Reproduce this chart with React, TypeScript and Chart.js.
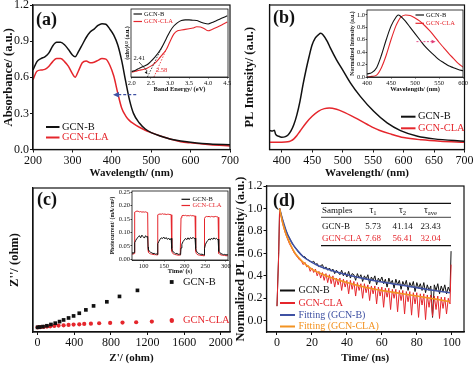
import React, { useEffect, useRef } from "react";
import { Chart, registerables } from "chart.js";

Chart.register(...registerables);

const PAGE_W = 474;
const PAGE_H = 365;
const SERIF = '"Liberation Serif", "Times New Roman", Times, serif';
const INK = "#111111";
const RED = "#e5262c";
const BLUE = "#3f51a3";
const ORANGE = "#f39322";
const PINK = "#e23c78";

Chart.defaults.font.family = SERIF;

// ---------- (a) UV-vis absorbance ----------
const uvWavelength = [200, 210, 220, 230, 240, 250, 260, 270, 280, 290, 300, 307, 315, 325, 335, 345, 355, 365, 375, 385, 395, 405, 415, 425, 435, 445, 455, 470, 485, 500, 525, 550, 575, 600, 650, 700];
const uvGcnB = [0.66, 0.73, 0.755, 0.77, 0.8, 0.86, 0.89, 0.89, 0.87, 0.83, 0.785, 0.77, 0.81, 0.87, 0.93, 0.975, 1.0, 1.03, 1.045, 1.04, 1.0, 0.95, 0.87, 0.74, 0.57, 0.41, 0.3, 0.22, 0.17, 0.14, 0.11, 0.085, 0.07, 0.06, 0.045, 0.04];
const uvGcnCla = [0.58, 0.65, 0.66, 0.665, 0.69, 0.73, 0.755, 0.755, 0.73, 0.69, 0.63, 0.6, 0.65, 0.72, 0.735, 0.72, 0.725, 0.74, 0.755, 0.75, 0.7, 0.61, 0.47, 0.345, 0.28, 0.24, 0.215, 0.185, 0.16, 0.14, 0.11, 0.085, 0.065, 0.055, 0.04, 0.03];
const uvXTicks = [200, 300, 400, 500, 600, 700];
const uvYTicks = [0, 0.3, 0.6, 0.9, 1.2];
const shiftArrow = { from: 462, to: 403, y: 0.455 };

// inset (a) Tauc plot
const taucEnergy = [2.0, 2.1, 2.2, 2.3, 2.4, 2.5, 2.6, 2.7, 2.8, 2.9, 3.0, 3.1, 3.2, 3.3, 3.4, 3.5, 3.6, 3.7, 3.8, 3.9, 4.0, 4.1, 4.2, 4.3, 4.4, 4.5];
const taucGcnB = [0.08, 0.1, 0.13, 0.155, 0.18, 0.23, 0.29, 0.36, 0.45, 0.56, 0.67, 0.75, 0.8, 0.83, 0.84, 0.84, 0.835, 0.83, 0.81, 0.79, 0.78, 0.8, 0.825, 0.85, 0.875, 0.9];
const taucGcnCla = [0.07, 0.085, 0.1, 0.11, 0.13, 0.16, 0.2, 0.26, 0.33, 0.4, 0.52, 0.63, 0.68, 0.69, 0.7, 0.71, 0.72, 0.74, 0.735, 0.71, 0.68, 0.7, 0.725, 0.75, 0.78, 0.81];
const taucXTicks = [2.0, 2.5, 3.0, 3.5, 4.0, 4.5];
const tangentBx = [2.41, 2.8];
const tangentBy = [0, 0.45];
const tangentClaX = [2.58, 2.9];
const tangentClaY = [0, 0.4];
const gapB = 2.41;
const gapCla = 2.58;

// ---------- (b) PL spectra ----------
const plWlB = [380, 385, 388, 390, 395, 400, 405, 410, 415, 420, 425, 430, 435, 440, 445, 450, 455, 460, 464, 468, 475, 480, 490, 500, 513, 529, 551, 573, 595, 623, 650, 700];
const plGcnB = [5.7, 5.6, 5.8, 4.6, 4.0, 3.7, 3.8, 4.3, 5.5, 7.5, 10.5, 14.5, 19.5, 24, 28, 31.5, 33.5, 34.5, 35, 34.5, 32.5, 30.5, 27, 24, 20, 16, 11.5, 8, 5.7, 4, 3.2, 2.5];
const plWlCla = [380, 400, 410, 415, 420, 425, 430, 440, 450, 460, 470, 478, 490, 500, 520, 540, 560, 580, 600, 630, 660, 700];
const plGcnCla = [2.2, 2.2, 2.3, 2.6, 3.2, 4.2, 5.5, 8, 10, 11.5, 12.3, 12.5, 12.1, 11.4, 9.6, 7.6, 5.8, 4.6, 3.6, 2.9, 2.5, 2.2];
const plXTicks = [400, 450, 500, 550, 600, 650, 700];

// inset (b) normalized PL
const nplWl = [400, 410, 420, 430, 440, 450, 460, 465, 470, 480, 490, 500, 510, 520, 530, 540, 550, 560, 570, 580, 590, 600];
const nplGcnB = [0.05, 0.07, 0.15, 0.35, 0.6, 0.82, 0.96, 1.0, 0.98, 0.9, 0.8, 0.7, 0.6, 0.5, 0.42, 0.35, 0.28, 0.23, 0.18, 0.15, 0.12, 0.1];
const nplGcnCla = [0.0, 0.01, 0.03, 0.15, 0.35, 0.6, 0.82, 0.9, 0.96, 1.0, 0.99, 0.95, 0.9, 0.83, 0.75, 0.66, 0.56, 0.47, 0.38, 0.3, 0.22, 0.16];
const nplXTicks = [400, 450, 500, 550, 600];
const nplYTicks = [0, 0.2, 0.4, 0.6, 0.8, 1.0];
const redShiftArrow = { from: 503, to: 543, y: 0.57 };

// ---------- (c) Nyquist ----------
const eisReB = [0, 22, 59, 102, 146, 193, 240, 284, 338, 393, 455, 527, 611, 756, 894, 1090];
const eisImB = [0, 3, 8, 17, 31, 45, 62, 80, 101, 123, 152, 188, 231, 275, 333, 398];
const eisReCla = [0, 29, 65, 102, 138, 182, 229, 284, 338, 393, 455, 509, 582, 672, 792, 927, 1076, 1247, 1465];
const eisImCla = [0, 2, 5, 8, 11, 15, 19, 22, 26, 30, 33, 37, 40, 44, 48, 51, 55, 62, 69];
const eisXTicks = [0, 400, 800, 1200, 1600, 2000];

// inset (c) photocurrent
const pcTime = [
  72, 74, 76, 77, 78, 79, 81, 84, 87, 90,
  93, 96, 99, 102, 105, 108, 110, 111, 112, 114,
  117, 120, 123, 126, 129, 132, 133, 134, 135, 137,
  140, 143, 146, 149, 152, 155, 158, 161, 164, 167,
  168, 169, 170, 172, 175, 178, 181, 184, 187, 189,
  190, 191, 193, 196, 199, 202, 205, 208, 211, 214,
  217, 220, 223, 225, 226, 227, 228, 230, 233, 236,
  239, 242, 245, 246, 247, 248, 250, 253, 256, 259,
  262, 265, 268, 271, 274, 277, 280, 281, 282, 283,
  285, 288, 291, 294, 297, 300, 303, 305,
];
const pcGcnCla = [
  0.02, 0.019, 0.02, 0.021, 0.17, 0.176, 0.178, 0.18, 0.179, 0.177,
  0.178, 0.176, 0.177, 0.176, 0.177, 0.175, 0.174, 0.035, 0.026, 0.022,
  0.02, 0.019, 0.018, 0.017, 0.017, 0.016, 0.016, 0.16, 0.166, 0.168,
  0.169, 0.168, 0.17, 0.168, 0.169, 0.167, 0.168, 0.168, 0.167, 0.166,
  0.165, 0.03, 0.024, 0.02, 0.018, 0.017, 0.016, 0.015, 0.015, 0.015,
  0.015, 0.155, 0.162, 0.164, 0.163, 0.164, 0.162, 0.163, 0.162, 0.164,
  0.162, 0.163, 0.161, 0.162, 0.16, 0.03, 0.022, 0.018, 0.016, 0.015,
  0.014, 0.014, 0.013, 0.013, 0.013, 0.152, 0.158, 0.16, 0.159, 0.16,
  0.158, 0.16, 0.159, 0.158, 0.16, 0.159, 0.158, 0.157, 0.03, 0.022,
  0.018, 0.016, 0.015, 0.014, 0.014, 0.013, 0.013, 0.013,
];
const pcGcnB = [
  0.025, 0.022, 0.024, 0.025, 0.05, 0.062, 0.07, 0.078, 0.082, 0.088,
  0.08, 0.09, 0.084, 0.079, 0.088, 0.082, 0.085, 0.045, 0.035, 0.03,
  0.026, 0.024, 0.021, 0.022, 0.019, 0.02, 0.018, 0.045, 0.058, 0.066,
  0.074, 0.08, 0.077, 0.083, 0.076, 0.081, 0.074, 0.079, 0.072, 0.078,
  0.075, 0.04, 0.032, 0.027, 0.024, 0.02, 0.022, 0.018, 0.019, 0.017,
  0.018, 0.042, 0.056, 0.066, 0.072, 0.078, 0.073, 0.08, 0.074, 0.081,
  0.076, 0.082, 0.077, 0.079, 0.076, 0.04, 0.032, 0.026, 0.022, 0.02,
  0.018, 0.019, 0.016, 0.017, 0.016, 0.04, 0.054, 0.064, 0.07, 0.076,
  0.072, 0.079, 0.074, 0.08, 0.075, 0.078, 0.073, 0.075, 0.038, 0.03,
  0.025, 0.021, 0.019, 0.017, 0.018, 0.016, 0.017, 0.016,
];
const pcXTicks = [100, 150, 200, 250, 300];
const pcYTicks = [0, 0.05, 0.1, 0.15, 0.2, 0.25];

// ---------- (d) PL decay ----------
const decayTime = [
  0, 1, 1.5, 2, 3, 4, 5, 6, 7, 8, 9,
  10, 11, 12, 13, 14, 15, 16, 17, 18, 19,
  20, 21, 22, 23, 24, 25, 26, 27, 28, 29,
  30, 31, 32, 33, 34, 35, 36, 37, 38, 39,
  40, 41, 42, 43, 44, 45, 46, 47, 48, 49,
  50, 51, 52, 53, 54, 55, 56, 57, 58, 59,
  60, 61, 62, 63, 64, 65, 66, 67, 68, 69,
  70, 71, 72, 73, 74, 75, 76, 77, 78, 79,
  80, 81, 82, 83, 84, 85, 86, 87, 88, 89,
  90, 91, 92, 93, 94, 95, 96, 97, 98, 99,
  99.6,
];
const decayGcnB = [
  0.13, 0.62, 1.0, 0.97, 0.91, 0.85, 0.81, 0.77, 0.74, 0.71, 0.68,
  0.66, 0.64, 0.62, 0.6, 0.59, 0.57, 0.57, 0.55, 0.54, 0.53,
  0.52, 0.53, 0.5, 0.51, 0.48, 0.49, 0.5, 0.46, 0.48, 0.45,
  0.47, 0.44, 0.46, 0.42, 0.45, 0.43, 0.41, 0.45, 0.4, 0.43,
  0.39, 0.44, 0.38, 0.42, 0.41, 0.36, 0.42, 0.38, 0.41, 0.35,
  0.4, 0.37, 0.41, 0.33, 0.39, 0.36, 0.4, 0.32, 0.38, 0.35,
  0.39, 0.33, 0.37, 0.3, 0.38, 0.33, 0.36, 0.29, 0.37, 0.32,
  0.36, 0.28, 0.35, 0.31, 0.36, 0.27, 0.34, 0.3, 0.35, 0.26,
  0.34, 0.29, 0.33, 0.27, 0.34, 0.25, 0.32, 0.27, 0.31, 0.03,
  0.32, 0.27, 0.33, 0.24, 0.31, 0.26, 0.32, 0.24, 0.3, 0.26,
  0.62,
];
const decayGcnCla = [
  0.13, 0.6, 1.0, 0.96, 0.88, 0.82, 0.77, 0.73, 0.69, 0.66, 0.63,
  0.6, 0.58, 0.56, 0.54, 0.53, 0.5, 0.52, 0.48, 0.49, 0.44,
  0.47, 0.43, 0.46, 0.4, 0.44, 0.38, 0.43, 0.36, 0.42, 0.34,
  0.41, 0.33, 0.4, 0.3, 0.38, 0.32, 0.38, 0.27, 0.37, 0.3,
  0.36, 0.24, 0.36, 0.28, 0.35, 0.22, 0.34, 0.27, 0.33, 0.2,
  0.33, 0.25, 0.32, 0.18, 0.31, 0.24, 0.31, 0.15, 0.3, 0.22,
  0.3, 0.12, 0.29, 0.21, 0.29, 0.1, 0.28, 0.2, 0.28, 0.08,
  0.27, 0.18, 0.27, 0.06, 0.26, 0.17, 0.26, 0.05, 0.25, 0.15,
  0.25, 0.03, 0.24, 0.14, 0.24, 0.01, 0.23, 0.12, 0.23, 0.04,
  0.22, 0.1, 0.22, 0.02, 0.21, 0.11, 0.21, 0.06, 0.2, 0.15,
  0.5,
];
const fitTime = [1.5, 2, 3, 4, 5, 6, 8, 10, 12, 15, 20, 25, 30, 40, 50, 60, 70, 80, 90, 99];
const fitGcnB = [1.0, 0.97, 0.91, 0.86, 0.81, 0.77, 0.71, 0.66, 0.62, 0.57, 0.52, 0.48, 0.455, 0.41, 0.375, 0.345, 0.32, 0.295, 0.27, 0.25];
const fitGcnCla = [1.0, 0.96, 0.89, 0.83, 0.78, 0.74, 0.67, 0.61, 0.57, 0.52, 0.46, 0.42, 0.39, 0.34, 0.3, 0.27, 0.245, 0.22, 0.195, 0.17];
const decayXTicks = [0, 20, 40, 60, 80, 100];
const decayYTicks = [0, 0.2, 0.4, 0.6, 0.8, 1.0, 1.2];
const tableHeader = ["Samples", "τ1", "τ2", "τave"];
const tableGcnB = ["GCN-B", "5.73", "41.14", "23.43"];
const tableGcnCla = ["GCN-CLA", "7.68", "56.41", "32.04"];

// ---------- helpers ----------
type Box = { l: number; t: number; r: number; b: number; yW: number; xH: number };
type AxisOpt = {
  min: number; max: number; ticks: number[];
  labels?: boolean; marks?: boolean; fontSize?: number; digits?: number;
  title?: string; titleSize?: number; tickLen?: number; tickPad?: number; lineW?: number;
};

function makeAxis(o: AxisOpt, horizontal: boolean, fixed: number) {
  return {
    type: "linear",
    position: horizontal ? "bottom" : "left",
    min: o.min,
    max: o.max,
    afterBuildTicks: (s: any) => {
      s.ticks = o.ticks.map((v) => ({ value: v }));
    },
    afterFit: (s: any) => {
      if (horizontal) s.height = fixed;
      else s.width = fixed;
      s.paddingLeft = 0;
      s.paddingRight = 0;
      s.paddingTop = 0;
      s.paddingBottom = 0;
    },
    grid: {
      display: o.marks !== false,
      drawOnChartArea: false,
      drawTicks: true,
      tickLength: o.tickLen ?? 3,
      tickWidth: o.lineW ?? 1,
      tickColor: INK,
      color: INK,
      lineWidth: o.lineW ?? 1,
    },
    border: { display: true, color: INK, width: o.lineW ?? 1.2 },
    ticks: {
      display: o.labels !== false,
      padding: o.tickPad ?? 1,
      color: INK,
      autoSkip: false,
      maxRotation: 0,
      minRotation: 0,
      font: { family: SERIF, size: o.fontSize ?? 12 },
      callback: (v: any) => (o.digits != null ? Number(v).toFixed(o.digits) : String(v)),
    },
    title: {
      display: !!o.title,
      text: o.title ?? "",
      color: INK,
      padding: 0,
      font: { family: SERIF, size: o.titleSize ?? 12, weight: "bold" },
    },
  };
}

function build(canvas: HTMLCanvasElement, datasets: any[], xAx: AxisOpt, yAx: AxisOpt, box: Box, plugins: any[]) {
  return new Chart(canvas, {
    type: "line",
    data: { datasets },
    options: {
      responsive: false,
      maintainAspectRatio: false,
      animation: false,
      devicePixelRatio: 1,
      events: [],
      layout: {
        padding: { left: box.l - box.yW, top: box.t, right: PAGE_W - box.r, bottom: PAGE_H - box.b - box.xH },
      },
      plugins: { legend: { display: false }, tooltip: { enabled: false }, title: { display: false } },
      scales: { x: makeAxis(xAx, true, box.xH), y: makeAxis(yAx, false, box.yW) },
      elements: { point: { radius: 0 } },
    },
    plugins,
  } as any);
}

function curve(xs: number[], ys: number[], color: string, width: number, smooth: boolean, dash: number[] = []) {
  return {
    data: xs.map((x, i) => ({ x, y: ys[i] })),
    borderColor: color,
    backgroundColor: color,
    borderWidth: width,
    borderDash: dash,
    pointRadius: 0,
    fill: false,
    tension: smooth ? 0.4 : 0,
    cubicInterpolationMode: smooth ? "monotone" : "default",
  };
}

function markers(xs: number[], ys: number[], color: string, style: string, r: number) {
  return {
    data: xs.map((x, i) => ({ x, y: ys[i] })),
    showLine: false,
    pointStyle: style,
    pointRadius: r,
    pointBackgroundColor: color,
    pointBorderColor: color,
    pointBorderWidth: 0,
    borderColor: color,
    backgroundColor: color,
  };
}

function frame(lw: number, white: boolean) {
  return {
    id: "frame",
    beforeDatasetsDraw(chart: any) {
      if (!white) return;
      const a = chart.chartArea;
      const ctx = chart.ctx;
      ctx.save();
      ctx.fillStyle = "#ffffff";
      ctx.fillRect(a.left, a.top, a.right - a.left, a.bottom - a.top);
      ctx.restore();
    },
    afterDraw(chart: any) {
      const a = chart.chartArea;
      const ctx = chart.ctx;
      ctx.save();
      ctx.strokeStyle = INK;
      ctx.lineWidth = lw;
      ctx.strokeRect(a.left, a.top, a.right - a.left, a.bottom - a.top);
      ctx.restore();
    },
  };
}

function deco(id: string, fn: (chart: any, ctx: CanvasRenderingContext2D) => void) {
  return { id, afterDraw: (chart: any) => fn(chart, chart.ctx) };
}

function fnt(size: number, bold = false) {
  return `${bold ? "bold " : ""}${size}px ${SERIF}`;
}

function text(ctx: CanvasRenderingContext2D, s: string, x: number, y: number, size: number, color: string, align: CanvasTextAlign = "left", bold = false) {
  ctx.save();
  ctx.font = fnt(size, bold);
  ctx.fillStyle = color;
  ctx.textAlign = align;
  ctx.textBaseline = "middle";
  ctx.fillText(s, x, y);
  ctx.restore();
}

function seg(ctx: CanvasRenderingContext2D, x1: number, y1: number, x2: number, y2: number, color: string, w: number, dash: number[] = []) {
  ctx.save();
  ctx.strokeStyle = color;
  ctx.lineWidth = w;
  ctx.setLineDash(dash);
  ctx.beginPath();
  ctx.moveTo(x1, y1);
  ctx.lineTo(x2, y2);
  ctx.stroke();
  ctx.restore();
}

function head(ctx: CanvasRenderingContext2D, x: number, y: number, angle: number, size: number, color: string) {
  ctx.save();
  ctx.translate(x, y);
  ctx.rotate(angle);
  ctx.beginPath();
  ctx.moveTo(0, 0);
  ctx.lineTo(-size, -size * 0.45);
  ctx.lineTo(-size, size * 0.45);
  ctx.closePath();
  ctx.fillStyle = color;
  ctx.fill();
  ctx.restore();
}

function subText(ctx: CanvasRenderingContext2D, s: string, cx: number, y: number, size: number, color: string) {
  const main = s.charAt(0);
  const sub = s.slice(1);
  ctx.save();
  ctx.font = fnt(size);
  const w1 = ctx.measureText(main).width;
  ctx.font = fnt(size * 0.7);
  const w2 = ctx.measureText(sub).width;
  const x0 = cx - (w1 + w2) / 2;
  ctx.fillStyle = color;
  ctx.textAlign = "left";
  ctx.textBaseline = "middle";
  ctx.font = fnt(size);
  ctx.fillText(main, x0, y);
  ctx.font = fnt(size * 0.7);
  ctx.fillText(sub, x0 + w1, y + size * 0.25);
  ctx.restore();
}

function legendRow(ctx: CanvasRenderingContext2D, x1: number, x2: number, y: number, color: string, label: string, tx: number, size: number, lw: number) {
  seg(ctx, x1, y, x2, y, color, lw);
  text(ctx, label, tx, y, size, color);
}

// ---------- panels ----------
function buildA(canvas: HTMLCanvasElement) {
  const box: Box = { l: 33, t: 5, r: 230, b: 149.5, yW: 31.5, xH: 30 };
  return build(
    canvas,
    [curve(uvWavelength, uvGcnB, INK, 1.5, true), curve(uvWavelength, uvGcnCla, RED, 1.5, true)],
    { min: 200, max: 700, ticks: uvXTicks, title: "Wavelength/ (nm)", titleSize: 11 },
    { min: 0, max: 1.2, ticks: uvYTicks, digits: 1, title: "Absorbance/ (a.u.)", titleSize: 12.5 },
    box,
    [
      frame(1.2, false),
      deco("decoA", (ch, ctx) => {
        text(ctx, "(a)", 36, 20, 18, INK, "left", true);
        legendRow(ctx, 46, 59.5, 127, INK, "GCN-B", 62, 10.5, 2);
        legendRow(ctx, 46, 59.5, 137.5, RED, "GCN-CLA", 62, 10.5, 2);
        const xs = ch.scales.x;
        const ys = ch.scales.y;
        const y = ys.getPixelForValue(shiftArrow.y);
        const x1 = xs.getPixelForValue(shiftArrow.from);
        const x2 = xs.getPixelForValue(shiftArrow.to);
        seg(ctx, x1, y, x2 + 5, y, BLUE, 1.2, [3, 2]);
        head(ctx, x2, y, Math.PI, 6, BLUE);
      }),
    ]
  );
}

function buildAInset(canvas: HTMLCanvasElement) {
  const box: Box = { l: 131, t: 9, r: 228, b: 77, yW: 7.6, xH: 15.9 };
  return build(
    canvas,
    [
      curve(tangentBx, tangentBy, INK, 0.8, false, [1.5, 1.5]),
      curve(tangentClaX, tangentClaY, RED, 0.8, false, [1.5, 1.5]),
      curve(taucEnergy, taucGcnB, INK, 1.1, true),
      curve(taucEnergy, taucGcnCla, RED, 1.1, true),
    ],
    { min: 1.98, max: 4.52, ticks: taucXTicks, digits: 1, fontSize: 6.5, title: "Band Energy/ (eV)", titleSize: 6.5, tickLen: 1.5, tickPad: 0.5, lineW: 0.8 },
    { min: 0, max: 1, ticks: [], labels: false, marks: false, title: "(αhν)¹/² (a.u.)", titleSize: 6, lineW: 0.8 },
    box,
    [
      frame(0.8, true),
      deco("decoAi", (ch, ctx) => {
        legendRow(ctx, 133.5, 142, 14, INK, "GCN-B", 144, 6.5, 1.2);
        legendRow(ctx, 133.5, 142, 21.5, RED, "GCN-CLA", 144, 6.5, 1.2);
        const xs = ch.scales.x;
        const ys = ch.scales.y;
        text(ctx, gapB.toFixed(2), 133.5, 58, 6.5, INK);
        const tx = xs.getPixelForValue(gapB);
        const ty = ys.getPixelForValue(0.04);
        seg(ctx, 139, 62, tx, ty - 3, INK, 0.7);
        head(ctx, tx, ty, Math.atan2(ty - 62, tx - 139), 3, INK);
        text(ctx, gapCla.toFixed(2), xs.getPixelForValue(gapCla) + 2, 70, 6.5, RED);
      }),
    ]
  );
}

function buildB(canvas: HTMLCanvasElement) {
  const box: Box = { l: 269.5, t: 5, r: 464.5, b: 149.5, yW: 26.75, xH: 30 };
  return build(
    canvas,
    [curve(plWlB, plGcnB, INK, 1.5, true), curve(plWlCla, plGcnCla, RED, 1.5, true)],
    { min: 380, max: 700, ticks: plXTicks, title: "Wavelength/ (nm)", titleSize: 11 },
    { min: 0, max: 43.5, ticks: [], labels: false, marks: false, title: "PL Intensity/ (a.u.)", titleSize: 12.5 },
    box,
    [
      frame(1.2, false),
      deco("decoB", (_ch, ctx) => {
        text(ctx, "(b)", 273, 18.5, 18, INK, "left", true);
        legendRow(ctx, 401, 415.5, 116.7, INK, "GCN-B", 418, 10.5, 2);
        legendRow(ctx, 401, 415.5, 128.3, RED, "GCN-CLA", 418, 10.5, 2);
      }),
    ]
  );
}

function buildBInset(canvas: HTMLCanvasElement) {
  const box: Box = { l: 367, t: 10, r: 463, b: 77, yW: 17.6, xH: 15.9 };
  return build(
    canvas,
    [curve(nplWl, nplGcnB, INK, 1.1, true), curve(nplWl, nplGcnCla, RED, 1.1, true)],
    { min: 400, max: 600, ticks: nplXTicks, fontSize: 6.5, title: "Wavelength/ (nm)", titleSize: 6.5, tickLen: 1.5, tickPad: 0.5, lineW: 0.8 },
    { min: 0, max: 1.08, ticks: nplYTicks, digits: 1, fontSize: 6.5, title: "Normalized Intensity (a.u.)", titleSize: 5.6, tickLen: 1.5, tickPad: 0.5, lineW: 0.8 },
    box,
    [
      frame(0.8, true),
      deco("decoBi", (ch, ctx) => {
        legendRow(ctx, 415.5, 424, 15, INK, "GCN-B", 426, 6.5, 1.2);
        legendRow(ctx, 415.5, 424, 23.3, RED, "GCN-CLA", 426, 6.5, 1.2);
        const xs = ch.scales.x;
        const ys = ch.scales.y;
        const y = ys.getPixelForValue(redShiftArrow.y);
        const x1 = xs.getPixelForValue(redShiftArrow.from);
        const x2 = xs.getPixelForValue(redShiftArrow.to);
        seg(ctx, x1, y, x2 - 3, y, PINK, 0.9, [2, 1.5]);
        head(ctx, x2, y, 0, 4, PINK);
      }),
    ]
  );
}

function buildC(canvas: HTMLCanvasElement) {
  const box: Box = { l: 33, t: 188, r: 230, b: 332, yW: 25.5, xH: 32.6 };
  return build(
    canvas,
    [markers(eisReB, eisImB, INK, "rect", 2.6), markers(eisReCla, eisImCla, RED, "circle", 2.1)],
    { min: -50, max: 2100, ticks: eisXTicks, title: "Z'/ (ohm)", titleSize: 11 },
    { min: -50, max: 1500, ticks: [], labels: false, marks: false, title: "Z''/ (ohm)", titleSize: 12.5 },
    box,
    [
      frame(1.2, false),
      deco("decoC", (_ch, ctx) => {
        text(ctx, "(c)", 37, 200, 18, INK, "left", true);
        ctx.save();
        ctx.fillStyle = INK;
        ctx.fillRect(169.8, 280.1, 3.8, 3.8);
        ctx.fillStyle = RED;
        ctx.beginPath();
        ctx.arc(171.7, 320, 2.1, 0, Math.PI * 2);
        ctx.fill();
        ctx.restore();
        text(ctx, "GCN-B", 183, 282, 10.5, INK);
        text(ctx, "GCN-CLA", 183, 320, 10.5, RED);
      }),
    ]
  );
}

function buildCInset(canvas: HTMLCanvasElement) {
  const box: Box = { l: 132, t: 191, r: 228, b: 260, yW: 22.6, xH: 14.9 };
  return build(
    canvas,
    [curve(pcTime, pcGcnB, INK, 1, false), curve(pcTime, pcGcnCla, RED, 1, false)],
    { min: 72, max: 305, ticks: pcXTicks, fontSize: 6.5, title: "Time/ (s)", titleSize: 6.5, tickLen: 1.5, tickPad: 0.5, lineW: 0.8 },
    { min: -0.003, max: 0.255, ticks: pcYTicks, digits: 2, fontSize: 6.5, title: "Photocurrent/ (mA/cm²)", titleSize: 5.6, tickLen: 1.5, tickPad: 0.5, lineW: 0.8 },
    box,
    [
      frame(0.8, true),
      deco("decoCi", (_ch, ctx) => {
        legendRow(ctx, 181.5, 190, 199.3, INK, "GCN-B", 192.5, 6.5, 1.2);
        legendRow(ctx, 181.5, 190, 205.5, RED, "GCN-CLA", 192.5, 6.5, 1.2);
      }),
    ]
  );
}

function buildD(canvas: HTMLCanvasElement) {
  const box: Box = { l: 266.5, t: 186, r: 464, b: 332, yW: 33, xH: 32.6 };
  return build(
    canvas,
    [
      curve(fitTime, fitGcnCla, ORANGE, 1.6, true),
      curve(fitTime, fitGcnB, BLUE, 1.6, true),
      curve(decayTime, decayGcnCla, RED, 1, false),
      curve(decayTime, decayGcnB, INK, 1, false),
    ],
    { min: -6, max: 107, ticks: decayXTicks, title: "Time/ (ns)", titleSize: 11 },
    { min: -0.1, max: 1.2, ticks: decayYTicks, digits: 1, title: "Normalized PL intensity/ (a.u.)", titleSize: 12.5 },
    box,
    [
      frame(1.2, false),
      deco("decoD", (_ch, ctx) => {
        text(ctx, "(d)", 273, 201.7, 18, INK, "left", true);
        // table
        seg(ctx, 321, 203.3, 451, 203.3, INK, 1.3);
        seg(ctx, 321, 217.3, 451, 217.3, INK, 0.8);
        seg(ctx, 321, 245.7, 451, 245.7, INK, 1.3);
        const cols = [373, 402.5, 430.5];
        const fs = 9;
        text(ctx, tableHeader[0], 322, 211, fs, INK);
        for (let i = 1; i < 4; i++) subText(ctx, tableHeader[i], cols[i - 1], 210.5, fs + 0.5, INK);
        text(ctx, tableGcnB[0], 322, 226.7, fs, INK);
        text(ctx, tableGcnCla[0], 322, 238.3, fs, RED);
        for (let i = 1; i < 4; i++) {
          text(ctx, tableGcnB[i], cols[i - 1], 226.7, fs, INK, "center");
          text(ctx, tableGcnCla[i], cols[i - 1], 238.3, fs, RED, "center");
        }
        // legend
        legendRow(ctx, 280, 295, 290.5, INK, "GCN-B", 298.5, 10, 2);
        legendRow(ctx, 280, 295, 303, RED, "GCN-CLA", 298.5, 10, 2);
        legendRow(ctx, 280, 295, 315, BLUE, "Fitting (GCN-B)", 298.5, 10, 2);
        legendRow(ctx, 280, 295, 326.5, ORANGE, "Fitting (GCN-CLA)", 298.5, 10, 2);
      }),
    ]
  );
}

const builders = [buildA, buildB, buildC, buildD, buildAInset, buildBInset, buildCInset];

export default function App() {
  const refs = useRef<(HTMLCanvasElement | null)[]>([]);
  useEffect(() => {
    const charts: Chart[] = [];
    builders.forEach((fn, i) => {
      const c = refs.current[i];
      if (c) charts.push(fn(c));
    });
    return () => charts.forEach((c) => c.destroy());
  }, []);
  return (
    <div style={{ position: "fixed", left: 0, top: 0, width: PAGE_W, height: PAGE_H, background: "#ffffff", overflow: "hidden" }}>
      {builders.map((_, i) => (
        <canvas
          key={i}
          ref={(el) => {
            refs.current[i] = el;
          }}
          width={PAGE_W}
          height={PAGE_H}
          style={{ position: "absolute", left: 0, top: 0 }}
        />
      ))}
    </div>
  );
}
